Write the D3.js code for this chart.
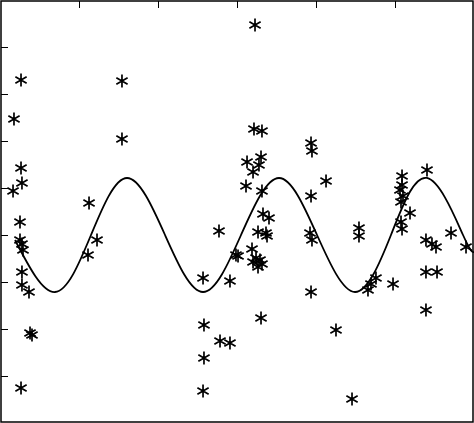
<!DOCTYPE html>
<html><head><meta charset="utf-8">
<script src="https://cdn.jsdelivr.net/npm/d3@7"></script>
<style>body{margin:0;background:#fff}</style></head>
<body><svg id="c" width="474" height="423"></svg>
<script>
// data in axis units (x: 0..6, y: 0..9)
const xTicks=[1,2,3,4,5];
const yTicks=[1,2,3,4,5,6,7,8];
const pxPts=[[255,25],[21,80],[122,81],[14,119],[254,129],[262,131],[122,139],[311,143],[312,151],[261,157],[247,162],[259,165],[21,168],[253,172],[22,183],[326,181],[13,191],[246,186],[262,191],[311,196],[402,176],[427,170],[402,185],[400,190],[403,196],[401,202],[89,203],[410,213],[263,214],[20,222],[269,218],[401,222],[219,231],[258,232],[266,233],[359,228],[402,229],[310,233],[312,240],[20,240],[22,244],[97,240],[359,236],[451,233],[267,236],[426,240],[432,244],[436,247],[466,247],[23,250],[252,249],[236,255],[88,255],[238,256],[256,258],[260,260],[253,262],[262,264],[258,267],[22,272],[426,272],[437,272],[22,285],[203,278],[376,278],[371,284],[368,290],[29,292],[311,292],[393,284],[230,281],[261,318],[426,310],[30,333],[32,335],[204,325],[336,330],[220,341],[230,343],[204,358],[21,388],[203,391],[352,399]];
const pointsX=pxPts.map(p=>+(p[0]/79).toFixed(3));
const pointsY=pxPts.map(p=>+((423-p[1])/47).toFixed(3));
const pxCurve=[[15,240],[55,292],[91,235],[127,178],[165,235],[203,292],[241,235],[279,178],[317,235],[355,292],[391,235],[427,178],[463,235],[474,252]];
const curveX=pxCurve.map(p=>+(p[0]/79).toFixed(3));
const curveY=pxCurve.map(p=>+((423-p[1])/47).toFixed(3));

const svg=d3.select("#c");
const x=d3.scaleLinear().domain([0,6]).range([0,474]);
const y=d3.scaleLinear().domain([0,9]).range([423,0]);
svg.append("rect").attr("x",1).attr("y",1).attr("width",472).attr("height",421).attr("fill","none").attr("stroke","#000").attr("stroke-width",1.5);
svg.append("g").attr("transform","translate(0,1)").call(d3.axisTop(x).tickValues(xTicks).tickSize(-7).tickFormat("")).call(g=>g.select(".domain").remove());
svg.append("g").attr("transform","translate(1,0)").call(d3.axisLeft(y).tickValues(yTicks).tickSize(-7).tickFormat("")).call(g=>g.select(".domain").remove());
const line=d3.line().x(d=>x(d[0])).y(d=>y(d[1])).curve(d3.curveNatural);
svg.append("path").datum(curveX.map((v,i)=>[v,curveY[i]])).attr("d",line).attr("fill","none").attr("stroke","#000").attr("stroke-width",1.8);
const r=6.5;
let star="";
for(let k=0;k<3;k++){const a=Math.PI/2+k*Math.PI/3;star+=`M${r*Math.cos(a)},${-r*Math.sin(a)}L${-r*Math.cos(a)},${r*Math.sin(a)}`;}
svg.append("g").selectAll("path").data(pointsX.map((v,i)=>[v,pointsY[i]])).join("path")
 .attr("transform",d=>`translate(${x(d[0])},${y(d[1])})`).attr("d",star).attr("stroke","#000").attr("stroke-width",1.7);
</script></body></html>
